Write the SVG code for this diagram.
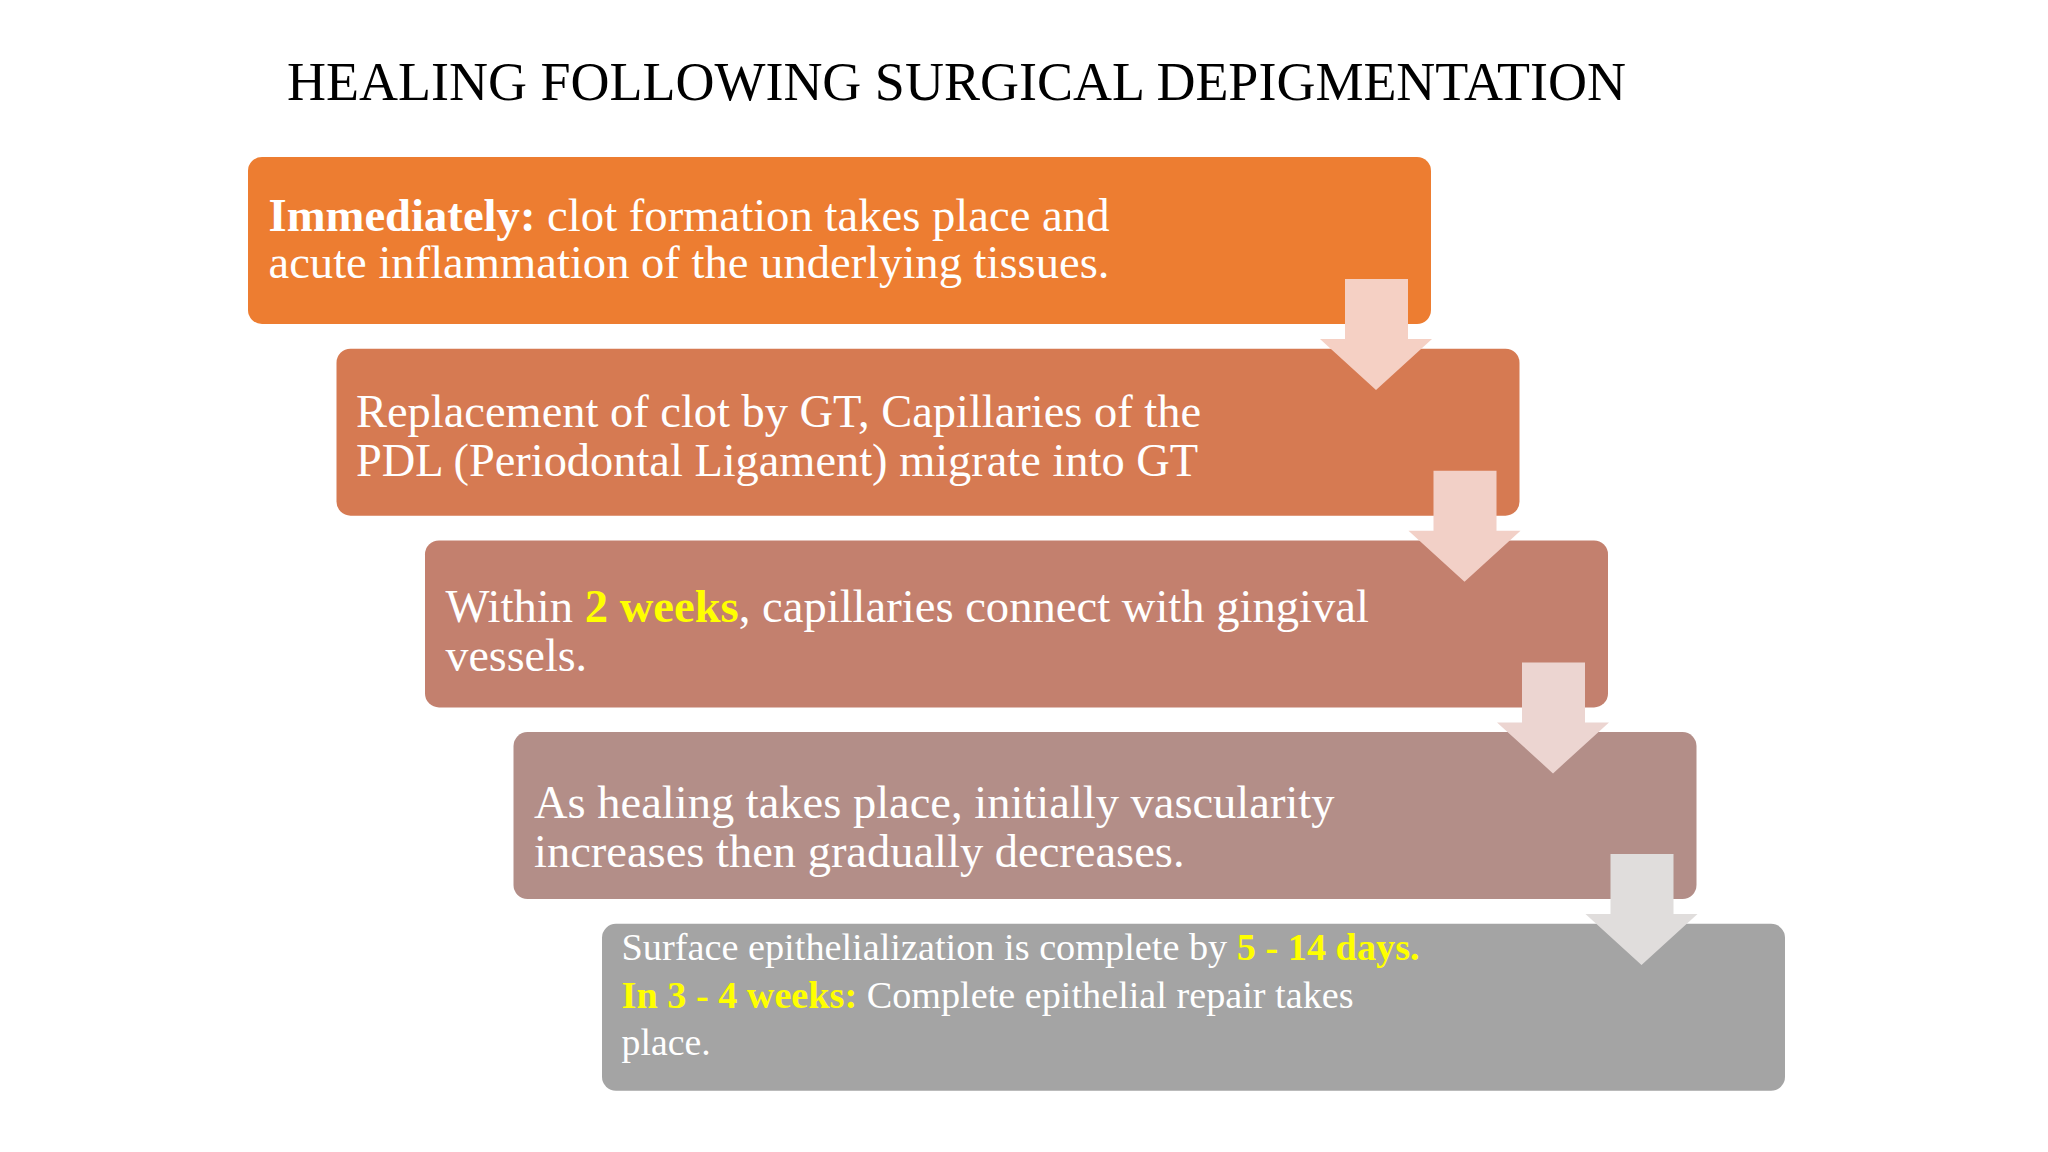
<svg xmlns="http://www.w3.org/2000/svg" width="2048" height="1152" viewBox="0 0 2048 1152">
  <style>
    .t { font-family: "Liberation Serif", "Times New Roman", serif; fill: #FFFFFF; font-size: 46px; }
    .s { font-size: 38px; }
    .b { font-weight: bold; }
    .y { fill: #FFFF00; font-weight: bold; }
    .title { font-family: "Liberation Serif", "Times New Roman", serif; fill: #000000; font-size: 54px; }
  </style>
  <rect x="0" y="0" width="2048" height="1152" fill="#FFFFFF"/>
  <text class="title" x="287" y="100" textLength="1339" lengthAdjust="spacingAndGlyphs">HEALING FOLLOWING SURGICAL DEPIGMENTATION</text>

  <g id="step1">
    <rect x="248" y="157" width="1183" height="167" rx="14" fill="#ED7D31"/>
    <text class="t" x="268.5" y="231" textLength="841" lengthAdjust="spacingAndGlyphs"><tspan class="b">Immediately:</tspan> clot formation takes place and</text>
    <text class="t" x="268.5" y="277.5" textLength="841" lengthAdjust="spacingAndGlyphs">acute inflammation of the underlying tissues.</text>
  </g>
  <g id="step2">
    <rect x="336.5" y="348.7" width="1183" height="167" rx="14" fill="#D67A52"/>
    <text class="t" x="356" y="426.5" textLength="845" lengthAdjust="spacingAndGlyphs">Replacement of clot by GT, Capillaries of the</text>
    <text class="t" x="356" y="475.5" textLength="842" lengthAdjust="spacingAndGlyphs">PDL (Periodontal Ligament) migrate into GT</text>
  </g>
  <g id="step3">
    <rect x="425" y="540.4" width="1183" height="167" rx="14" fill="#C3806E"/>
    <text class="t" x="445.5" y="622" textLength="923.5" lengthAdjust="spacingAndGlyphs">Within <tspan class="y">2 weeks</tspan>, capillaries connect with gingival</text>
    <text class="t" x="445.5" y="670.5" textLength="141.5" lengthAdjust="spacingAndGlyphs">vessels.</text>
  </g>
  <g id="step4">
    <rect x="513.5" y="732.1" width="1183" height="167" rx="14" fill="#B38E88"/>
    <text class="t" x="534" y="818" textLength="800.5" lengthAdjust="spacingAndGlyphs">As healing takes place, initially vascularity</text>
    <text class="t" x="534" y="866.5" textLength="650.5" lengthAdjust="spacingAndGlyphs">increases then gradually decreases.</text>
  </g>
  <g id="step5">
    <rect x="602" y="923.8" width="1183" height="167" rx="14" fill="#A4A4A4"/>
    <text class="t s" x="621.6" y="960" textLength="798" lengthAdjust="spacingAndGlyphs">Surface epithelialization is complete by <tspan class="y">5 - 14 days.</tspan></text>
    <text class="t s" x="621.6" y="1007.5" textLength="732" lengthAdjust="spacingAndGlyphs"><tspan class="y">In 3 - 4 weeks:</tspan> Complete epithelial repair takes</text>
    <text class="t s" x="621.6" y="1055" textLength="89" lengthAdjust="spacingAndGlyphs">place.</text>
  </g>

  <g id="connectors">
    <path d="M1345,279 H1408 V339 H1432 L1376,390 L1320,339 H1345 Z" fill="#F5D0C4"/>
    <path d="M1433.5,470.7 H1496.5 V530.7 H1520.5 L1464.5,581.7 L1408.5,530.7 H1433.5 Z" fill="#F2D0C7"/>
    <path d="M1522,662.4 H1585 V722.4 H1609 L1553,773.4 L1497,722.4 H1522 Z" fill="#ECD5D1"/>
    <path d="M1610.5,854.1 H1673.5 V914.1 H1697.5 L1641.5,965.1 L1585.5,914.1 H1610.5 Z" fill="#E0DDDC"/>
  </g>
</svg>
